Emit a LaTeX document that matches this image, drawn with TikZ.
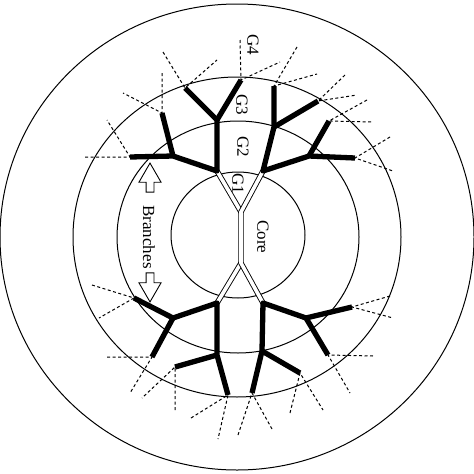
\documentclass[tikz,border=0pt]{standalone}
\usepackage{fontspec}
\setmainfont{Liberation Serif}
\usetikzlibrary{shapes.arrows}

\tikzset{
  ring/.style={draw=black, line width=1pt},
  stem/.style={line width=5.3pt, line join=round},
  core/.style={double, double distance=3.6pt, line width=0.9pt},
  gfour/.style={dash pattern=on 3pt off 2.5pt, line width=1pt},
  lab/.style={font=\fontsize{17}{19}\selectfont, rotate=-90, inner sep=0pt},
  barrow/.style={single arrow, draw, line width=0.9pt, minimum height=29pt,
    minimum width=14pt, inner sep=3.5pt, single arrow tip angle=60}
}

\begin{document}
\begin{tikzpicture}[x=1pt, y=-1pt]
  \useasboundingbox (0,0) rectangle (474,474);

  % rings
  \draw[ring] (237,237) ellipse [x radius=237pt, y radius=233pt];
  \draw[ring] (237,237) ellipse [x radius=164pt, y radius=160pt];
  \draw[ring] (238,237) ellipse [x radius=121pt, y radius=116pt];
  \draw[ring] (238,235) ellipse [x radius=67pt, y radius=63pt];

  % core
  \coordinate (c1) at (241,212);
  \coordinate (c2) at (241,263);
  \coordinate (ul) at (217,171);
  \coordinate (ur) at (263,171);
  \coordinate (ll) at (217,303);
  \coordinate (lr) at (263,303);

  % branch points
  \coordinate (ul2) at (217,120);
  \coordinate (ul3) at (173,156);
  \coordinate (ur2) at (274,127);
  \coordinate (ur3) at (309,156);
  \coordinate (ll2) at (217,355);
  \coordinate (ll3) at (173,318);
  \coordinate (lr2) at (262,351);
  \coordinate (lr3) at (306,318);

  % tips
  \coordinate (u1) at (130,157);
  \coordinate (u2) at (162,113);
  \coordinate (u3) at (185,88);
  \coordinate (u4) at (241,80);
  \coordinate (u5) at (274,86);
  \coordinate (u6) at (318,101);
  \coordinate (u7) at (329,121);
  \coordinate (u8) at (355,158);
  \coordinate (d1) at (134,298);
  \coordinate (d2) at (152,357);
  \coordinate (d3) at (175,367);
  \coordinate (d4) at (228,395);
  \coordinate (d5) at (252,393);
  \coordinate (d6) at (300,373);
  \coordinate (d7) at (328,355);
  \coordinate (d8) at (352,307);

  % G4 ends
  \coordinate (u1a) at (85,157);  \coordinate (u1b) at (107,120);
  \coordinate (u2a) at (162,73);  \coordinate (u2b) at (123,93);
  \coordinate (u3a) at (163,52);  \coordinate (u3b) at (217,60);
  \coordinate (u4a) at (240,40);  \coordinate (u4b) at (280,62);
  \coordinate (u5a) at (297,47);  \coordinate (u5b) at (317,74);
  \coordinate (u6a) at (345,75);  \coordinate (u6b) at (357,95);
  \coordinate (u7a) at (367,100); \coordinate (u7b) at (373,122);
  \coordinate (u8a) at (390,137); \coordinate (u8b) at (393,171);
  \coordinate (d1a) at (92,285);  \coordinate (d1b) at (99,318);
  \coordinate (d2a) at (107,357); \coordinate (d2b) at (130,393);
  \coordinate (d3a) at (175,410); \coordinate (d3b) at (142,398);
  \coordinate (d4a) at (191,418); \coordinate (d4b) at (218,439);
  \coordinate (d5a) at (238,435); \coordinate (d5b) at (272,429);
  \coordinate (d6a) at (290,413); \coordinate (d6b) at (323,410);
  \coordinate (d7a) at (373,356); \coordinate (d7b) at (350,393);
  \coordinate (d8a) at (390,296); \coordinate (d8b) at (393,318);

  \draw[gfour] (u1a) -- (u1) -- (u1b);
  \draw[gfour] (u2a) -- (u2) -- (u2b);
  \draw[gfour] (u3a) -- (u3) -- (u3b);
  \draw[gfour] (u4a) -- (u4) -- (u4b);
  \draw[gfour] (u5a) -- (u5) -- (u5b);
  \draw[gfour] (u6a) -- (u6) -- (u6b);
  \draw[gfour] (u7a) -- (u7) -- (u7b);
  \draw[gfour] (u8a) -- (u8) -- (u8b);
  \draw[gfour] (d1a) -- (d1) -- (d1b);
  \draw[gfour] (d2a) -- (d2) -- (d2b);
  \draw[gfour] (d3a) -- (d3) -- (d3b);
  \draw[gfour] (d4a) -- (d4) -- (d4b);
  \draw[gfour] (d5a) -- (d5) -- (d5b);
  \draw[gfour] (d6a) -- (d6) -- (d6b);
  \draw[gfour] (d7a) -- (d7) -- (d7b);
  \draw[gfour] (d8a) -- (d8) -- (d8b);

  \draw[core] (ul) -- (c1);
  \draw[core] (ll) -- (c2);
  \draw[core] (ur) -- (c1) -- (c2) -- (lr);

  \draw[stem] (u1) -- (ul3) -- (ul) -- (ul2) -- (u3);
  \draw[stem] (ul3) -- (u2);
  \draw[stem] (ul2) -- (u4);
  \draw[stem] (u8) -- (ur3) -- (ur) -- (ur2) -- (u5);
  \draw[stem] (ur3) -- (u7);
  \draw[stem] (ur2) -- (u6);
  \draw[stem] (d1) -- (ll3) -- (ll) -- (ll2) -- (d4);
  \draw[stem] (ll3) -- (d2);
  \draw[stem] (ll2) -- (d3);
  \draw[stem] (d8) -- (lr3) -- (lr) -- (lr2) -- (d5);
  \draw[stem] (lr3) -- (d7);
  \draw[stem] (lr2) -- (d6);

  % labels
  \node[lab] (g4) at (253,45) {G4};
  \node[lab] (g3) at (242,105) {G3};
  \node[lab] (g2) at (243,147) {G2};
  \node[lab] (g1) at (238,184) {G1};
  \node[lab] (core) at (263,237) {Core};
  \node[lab] (branches) at (149,237) {Branches};
  \node[barrow, rotate=90] (up) at (150,181) {};
  \node[barrow, rotate=-90] (down) at (150,284) {};
\end{tikzpicture}
\end{document}
